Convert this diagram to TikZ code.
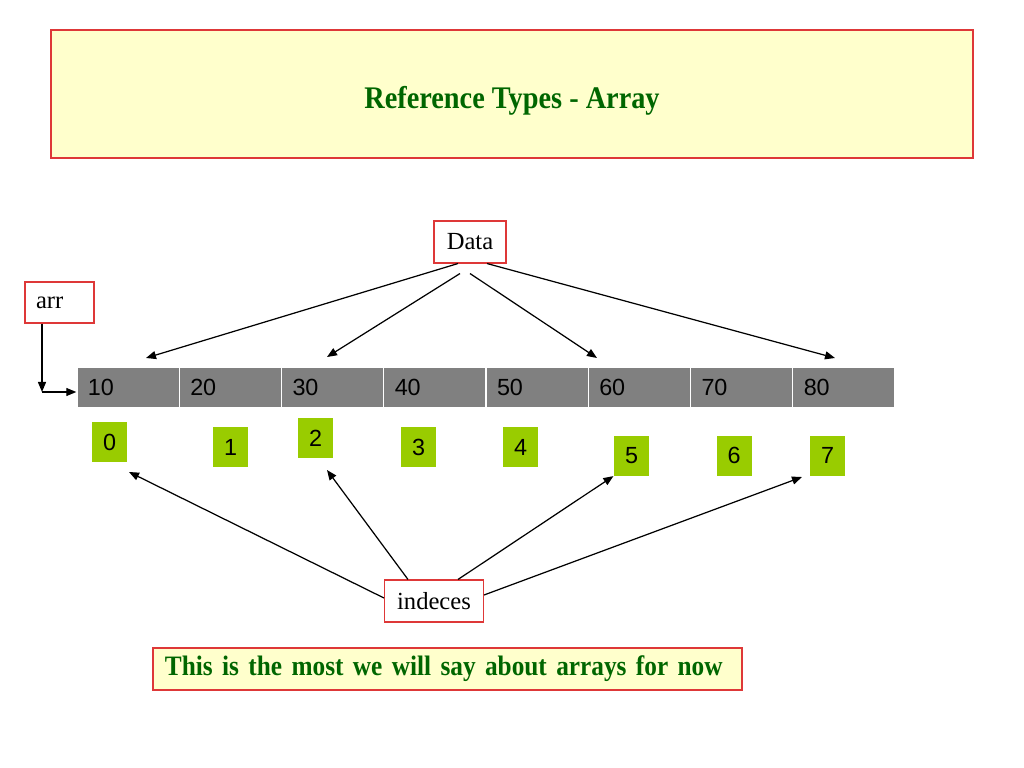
\documentclass[tikz,border=0pt]{standalone}
\usepackage{fontspec}
\setmainfont{Liberation Serif}
\newfontfamily\arialfont{Liberation Sans}
\newfontfamily\narrowserif{Liberation Serif}[FakeStretch=0.9]
\usetikzlibrary{arrows.meta}
\definecolor{boxred}{RGB}{222,56,56}
\definecolor{notegreen}{RGB}{0,102,0}
\definecolor{noteyellow}{RGB}{255,255,204}
\definecolor{cellgray}{RGB}{128,128,128}
\definecolor{idxgreen}{RGB}{153,204,0}

\begin{document}
\begin{tikzpicture}[>={Triangle[length=2mm,width=1.6mm]},line width=0.7pt,
  redbox/.style={draw=boxred,line width=0.6pt,inner sep=0pt,minimum height=0.84cm,font=\fontsize{14}{16}\selectfont},
  cell/.style={fill=cellgray,draw=white,line width=0.8pt,minimum height=0.82cm,inner sep=0pt,inner xsep=0.22cm,text width=1.605cm,align=left,font=\arialfont\fontsize{13.3}{15}\selectfont},
  idxbox/.style={fill=idxgreen,minimum width=0.7cm,minimum height=0.8cm,inner sep=0pt,font=\arialfont\fontsize{13.3}{15}\selectfont}]
\useasboundingbox (0,0) rectangle (20.48,-15.36);
\node[redbox,fill=noteyellow,minimum width=18.44cm,minimum height=2.56cm,text=notegreen,font=\narrowserif\fontsize{17.9}{21}\selectfont\bfseries](title) at (10.24,-1.88){\raisebox{-0.3cm}[0pt][0pt]{Reference Types - Array}};
\node[redbox,minimum height=0.82cm,inner xsep=0.22cm,text width=0.94cm,align=left](arr) at (1.19,-6.05){arr};
\node[redbox,minimum width=1.44cm](data) at (9.40,-4.84){Data};
% the array cells
\foreach \v[count=\i from 0] in {10,20,...,80} \node[cell](c\i) at ({2.5625+2.045*\i},-7.75){\v};
% index boxes
\foreach \i/\x/\y in {0/2.19/-8.84,1/4.61/-8.94,2/6.31/-8.76,3/8.37/-8.94,4/10.41/-8.94,5/12.63/-9.11,6/14.68/-9.11,7/16.55/-9.11}
  \node[idxbox](k\i) at (\x,\y){\i};
\node[redbox,minimum width=1.98cm](idx) at (8.68,-12.02){indeces};
\node[redbox,fill=noteyellow,inner xsep=0.24cm,text width=11.3cm,align=left,text=notegreen,font=\narrowserif\fontsize{16}{19}\selectfont\bfseries](note) at (8.95,-13.38){\mbox{This is the most we will say about arrays for now}};
% free arrow ends
\coordinate(top0) at (2.92,-7.16);\coordinate(top2) at (6.54,-7.14);
\coordinate(top5) at (11.94,-7.16);\coordinate(top7) at (16.70,-7.16);
\coordinate(low0) at (2.58,-9.44);\coordinate(low2) at (6.54,-9.40);\coordinate(low7) at (16.04,-9.54);
\coordinate(bend) at (0.84,-7.84);
\draw[->]([xshift=-0.35cm]arr.south)--(bend);\draw[->](bend)--(c0.west |- bend);
\draw[->]([xshift=-0.24cm]data.south)--(top0);\draw[->]([xshift=-0.2cm,yshift=-0.2cm]data.south)--(top2);
\draw[->]([yshift=-0.2cm]data.south)--(top5);\draw[->]([xshift=0.34cm]data.south)--(top7);
\draw[->]([yshift=0.06cm]idx.west)--(low0);\draw[->]([xshift=-0.52cm]idx.north)--(low2);
\draw[->]([xshift=0.48cm]idx.north)--(k5.south west);\draw[->]([yshift=0.12cm]idx.east)--(low7);
\end{tikzpicture}
\end{document}
